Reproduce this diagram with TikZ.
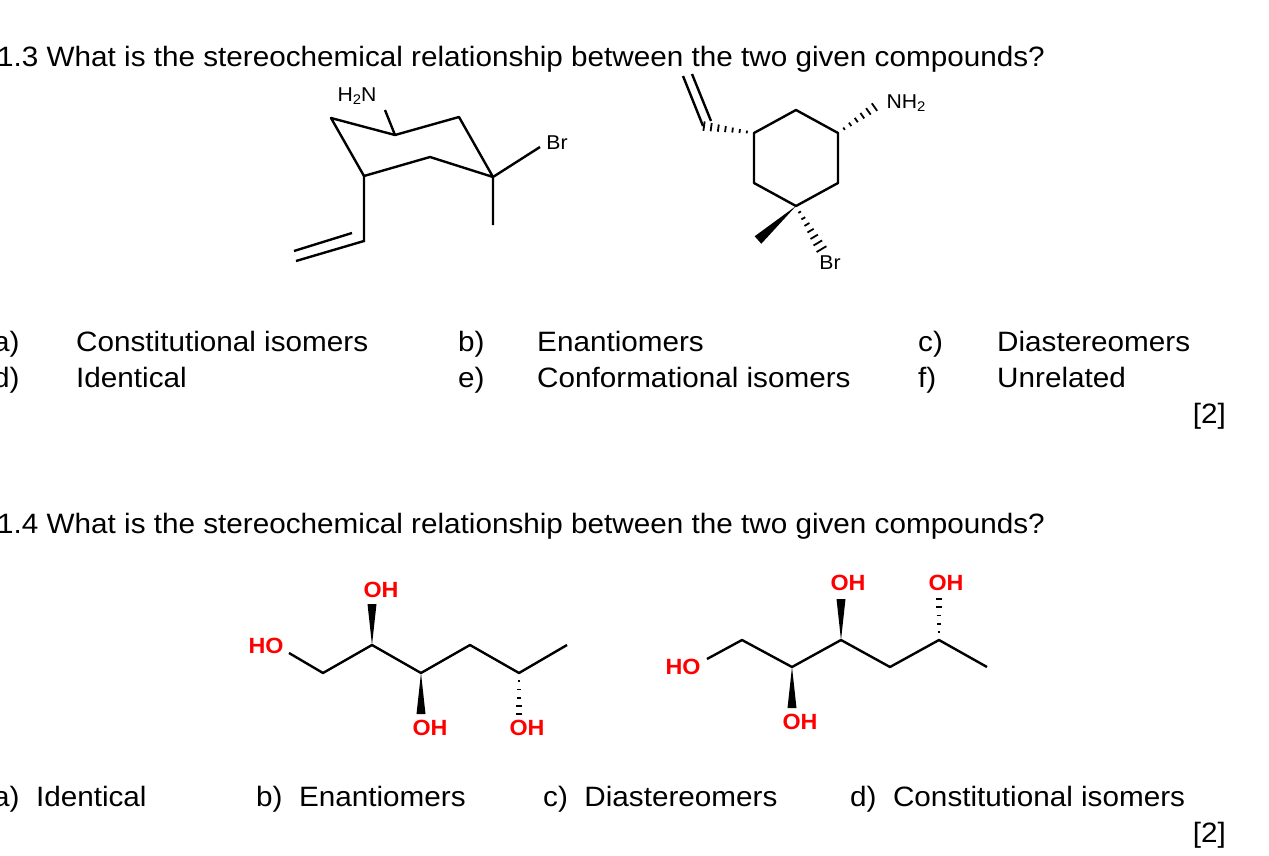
\documentclass[tikz,border=0pt]{standalone}
\usepackage{fontspec}
\setmainfont[FakeStretch=1.06]{Liberation Sans}
\usetikzlibrary{calc}
\newcommand\hashbond[4]{% from, to, max half width, step
  \foreach \t in {#4,...,1.0}{
    \coordinate (hp) at ($(#1)!\t!(#2)$);
    \pgfmathsetmacro\w{#3*\t+0.8}
    \draw[line width=1.8pt] ($(hp)!\w pt!90:(#2)$) -- ($(hp)!\w pt!-90:(#2)$);}}
\newcommand\wedgebond[3]{%
  \fill (#1) -- ($(#2)!#3 pt!90:(#1)$) -- ($(#2)!#3 pt!-90:(#1)$) -- cycle;}
\newcommand\sub[1]{\raisebox{-0.3ex}{\fontsize{14}{14}\selectfont #1}}
\begin{document}
\begin{tikzpicture}[x=1pt,y=-1pt,
  txt/.style={font=\fontsize{28}{32}\selectfont,inner sep=0pt,anchor=base west},
  lab/.style={font=\fontsize{20}{22}\selectfont,inner sep=1pt},
  ohl/.style={font=\fontsize{22}{24}\selectfont\bfseries,text=red,inner sep=1pt},
  bond/.style={line width=2.4pt}]
\useasboundingbox (0,0) rectangle (1269,856);
\fill[white] (0,0) rectangle (1269,856);
% texts
\node[txt] (t1) at (-3,67) {1.3 What is the stereochemical relationship between the two given compounds?};
\node[txt] (o1) at (-7,351) {a)};
\node[txt] (o2) at (76,351) {Constitutional isomers};
\node[txt] (o3) at (458,351) {b)};
\node[txt] (o4) at (537,351) {Enantiomers};
\node[txt] (o5) at (918,351) {c)};
\node[txt] (o6) at (997,351) {Diastereomers};
\node[txt] (o7) at (-7,387) {d)};
\node[txt] (o8) at (76,387) {Identical};
\node[txt] (o9) at (458,387) {e)};
\node[txt] (o10) at (537,387) {Conformational isomers};
\node[txt] (o11) at (918,387) {f)};
\node[txt] (o12) at (997,387) {Unrelated};
\node[txt,anchor=base east] (m1) at (1226,423) {[2]};
\node[txt] (t2) at (-3,533) {1.4 What is the stereochemical relationship between the two given compounds?};
\node[txt] (p1) at (-7,806) {a)\ \ Identical};
\node[txt] (p2) at (256,806) {b)\ \ Enantiomers};
\node[txt] (p3) at (543,806) {c)\ \ Diastereomers};
\node[txt] (p4) at (850,806) {d)\ \ Constitutional isomers};
\node[txt,anchor=base east] (m2) at (1226,842) {[2]};
% chair
\coordinate (A) at (331,118); \coordinate (B) at (395,135); \coordinate (C) at (459,117);
\coordinate (D) at (493,177); \coordinate (E) at (430,157); \coordinate (F) at (364,176);
\coordinate (N1) at (385,110); \coordinate (Br1) at (540,147); \coordinate (Me1) at (493,225);
\coordinate (V1) at (364,241); \coordinate (V2) at (296,261); \coordinate (V3) at (352,233); \coordinate (V4) at (294,251);
\draw[bond,line join=round] (A)--(B)--(C)--(D)--(E)--(F)--cycle;
\draw[bond] (B)--(N1) (D)--(Br1) (D)--(Me1) (F)--(V1)--(V2) (V3)--(V4);
\node[lab] (nh2a) at (357,96) {H\sub{2}N};
\node[lab] (bra) at (557,143) {Br};
% right cyclohexane
\coordinate (R1) at (796,110); \coordinate (R2) at (838,133); \coordinate (R3) at (838,183);
\coordinate (R4) at (796,206); \coordinate (R5) at (754,183); \coordinate (R6) at (754,133);
\draw[bond,line join=round] (R1)--(R2)--(R3)--(R4)--(R5)--(R6)--cycle;
\coordinate (Vq) at (703,126);
\hashbond{R6}{Vq}{4}{0.14,0.28}
\coordinate (Vt) at (683,76); \coordinate (Vt2) at (692,74); \coordinate (Vq2) at (711,121);
\draw[bond] (Vq)--(Vt) (Vq2)--(Vt2);
\coordinate (Nq) at (876,106);
\hashbond{R2}{Nq}{4}{0.16,0.32}
\node[lab] (nh2b) at (906,103) {NH\sub{2}};
\coordinate (Mq) at (758,240);
\wedgebond{R4}{Mq}{5}
\coordinate (Bq) at (822,250);
\hashbond{R4}{Bq}{5}{0.14,0.28}
\node[lab] (brb) at (830,263) {Br};
% left diol
\coordinate (L0) at (289,653); \coordinate (L1) at (323,673); \coordinate (L2) at (372,645);
\coordinate (L3) at (421,673); \coordinate (L4) at (470,645); \coordinate (L5) at (519,673);
\coordinate (L6) at (567,645);
\draw[bond,line join=round] (L0)--(L1)--(L2)--(L3)--(L4)--(L5)--(L6);
\coordinate (La) at (372,604); \wedgebond{L2}{La}{4.5}
\coordinate (Lb) at (421,714); \wedgebond{L3}{Lb}{4.5}
\coordinate (Lc) at (519,714); \hashbond{L5}{Lc}{2.5}{0.2,0.4}
\node[ohl] (ho1) at (266,646) {HO};
\node[ohl] (oh1) at (381,590) {OH};
\node[ohl] (oh2) at (430,728) {OH};
\node[ohl] (oh3) at (527,728) {OH};
% right diol
\coordinate (M0) at (707,659); \coordinate (M1) at (742,640); \coordinate (M2) at (792,667);
\coordinate (M3) at (841,640); \coordinate (M4) at (890,667); \coordinate (M5) at (939,640);
\coordinate (M6) at (987,667);
\draw[bond,line join=round] (M0)--(M1)--(M2)--(M3)--(M4)--(M5)--(M6);
\coordinate (Ma) at (792,708); \wedgebond{M2}{Ma}{4.5}
\coordinate (Mb) at (841,599); \wedgebond{M3}{Mb}{4.5}
\coordinate (Mc) at (939,599); \hashbond{M5}{Mc}{2.5}{0.2,0.4}
\node[ohl] (ho2) at (683,667) {HO};
\node[ohl] (oh4) at (800,722) {OH};
\node[ohl] (oh5) at (848,583) {OH};
\node[ohl] (oh6) at (946,583) {OH};
\end{tikzpicture}
\end{document}
